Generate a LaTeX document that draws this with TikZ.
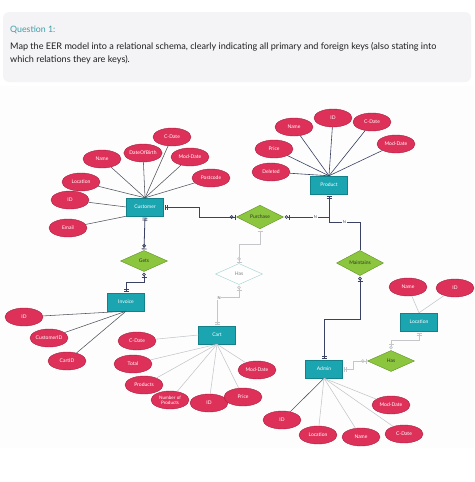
\documentclass[tikz,border=0pt]{standalone}
\usepackage{fontspec}
\setmainfont{Lato}
\usetikzlibrary{shapes.geometric,arrows.meta}

\definecolor{entfill}{HTML}{1BA5B0}
\definecolor{entline}{HTML}{12818A}
\definecolor{attrfill}{HTML}{DE3159}
\definecolor{attrline}{HTML}{A81E3E}
\definecolor{relfill}{HTML}{8CC63F}
\definecolor{relline}{HTML}{5F8F22}
\definecolor{hasline}{HTML}{9CCFCF}
\definecolor{linkdark}{HTML}{3B4163}
\definecolor{linklight}{HTML}{C4C6CA}
\definecolor{attrgray}{HTML}{50545C}
\definecolor{qteal}{HTML}{3F9EA8}
\definecolor{qbox}{HTML}{F4F3F6}

\tikzset{
  entity/.style={rectangle, draw=entline, fill=entfill, text=white,
    minimum width=37pt, minimum height=18pt, inner sep=0pt,
    font=\fontsize{5}{6}\selectfont},
  attr/.style={ellipse, draw=attrline, fill=attrfill, text=white,
    minimum width=38pt, minimum height=18pt, inner sep=0pt,
    font=\fontsize{5}{5.6}\selectfont},
  rel/.style={diamond, draw=relline, fill=relfill, text=black!80,
    minimum width=47pt, minimum height=21pt, inner sep=0pt,
    font=\fontsize{5}{6}\selectfont},
  weakrel/.style={rel, draw=hasline, fill=white, text=gray},
  darklink/.style={draw=linkdark, line width=0.8pt},
  lightlink/.style={draw=linklight, line width=0.7pt},
  attrlink/.style={draw=attrgray, line width=0.55pt},
  paleattr/.style={draw=linklight, line width=0.55pt},
  nlabel/.style={font=\fontsize{4}{5}\selectfont, fill=white, inner sep=0.6pt, text=linkdark},
  onebar/.tip={Bar[width=5pt,sep=1.5pt]},
  twobar/.tip={Bar[width=5pt,sep=1.2pt]Bar[width=5pt,sep=1.5pt]},
  % bar next to the node, circle further out
  zeroone/.tip={Circle[open,length=3.6pt,width=3.6pt,sep=1pt]Bar[width=5pt,sep=1pt]},
  onezero/.tip={Bar[width=5pt,sep=1pt]Circle[open,length=3.6pt,width=3.6pt,sep=1pt]},
}

\begin{document}
\begin{tikzpicture}[x=1pt,y=-1pt]
  \useasboundingbox (0,0) rectangle (474,482);
  % Question box on top
  \fill[qbox, rounded corners=6pt] (3,12) rectangle (471,82);
  \node[anchor=west, text=qteal, font=\fontsize{8.8}{10}\selectfont, inner sep=0pt] (qtitle) at (10,30) {Question 1:};
  \node[anchor=north west, align=left, text=black!88, inner sep=0pt,
        font=\fontsize{9.1}{13.5}\selectfont] (qtext) at (10,42)
        {Map the EER model into a relational schema, clearly indicating all primary and foreign keys (also stating into\\which relations they are keys).};
  \fill[black!0.8] (0,86) rectangle (474,448);

  % Entities
  \node[entity] (cust)  at (145,207) {Customer};
  \node[entity] (prod)  at (329,185) {Product};
  \node[entity] (inv)   at (126,302) {Invoice};
  \node[entity] (cart)  at (217,335) {Cart};
  \node[entity] (loc)   at (419,322) {Location};
  \node[entity] (admin) at (324,369) {Admin};

  % Relationships
  \node[rel] (purch) at (260,217) {Purchase};
  \node[rel] (gets)  at (144,261) {Gets};
  \node[weakrel] (hascart) at (239,274) {Has};
  \node[rel] (maint) at (360,263) {Maintains};
  \node[rel] (hasloc) at (391,361) {Has};

  % Customer attributes
  \node[attr] (cdate)  at (172,137) {C-Date};
  \node[attr] (cname)  at (102,159) {Name};
  \node[attr] (cdob)   at (143,153) {DateOfBirth};
  \node[attr] (cmod)   at (190,157) {Mod-Date};
  \node[attr] (cloc)   at (81,182)  {Location};
  \node[attr] (cpost)  at (211,178) {Postcode};
  \node[attr] (cid)    at (70,200)  {ID};
  \node[attr] (cmail)  at (68,228)  {Email};
  \foreach \a in {cdate,cname,cdob,cmod,cloc,cpost}
    \draw[attrlink] (\a) -- (cust.north);
  \draw[attrlink] (cid) -- (cust.west);
  \draw[attrlink] (cmail) -- (cust.south west);

  % Product attributes
  \node[attr] (pid)    at (333,118) {ID};
  \node[attr] (pcdate) at (372,122) {C-Date};
  \node[attr] (pname)  at (294,127) {Name};
  \node[attr] (pmod)   at (396,144) {Mod-Date};
  \node[attr] (pprice) at (274,149) {Price};
  \node[attr] (pdel)   at (271,172) {Deleted};
  \foreach \a in {pid,pcdate,pname,pmod,pprice,pdel}
    \draw[darklink, line width=0.6pt] (\a) -- (prod.north);

  % Invoice attributes
  \node[attr] (iid)   at (24,317) {ID};
  \node[attr] (icust) at (49,338) {CustomerID};
  \node[attr] (icart) at (67,361) {CartID};
  \foreach \a in {iid,icust,icart}
    \draw[attrlink] (\a) -- (inv.south);

  % Cart attributes
  \node[attr] (kdate)  at (137,341) {C-Date};
  \node[attr] (ktotal) at (133,364) {Total};
  \node[attr] (kprods) at (144,385) {Products};
  \node[attr, align=center, font=\fontsize{4.6}{5}\selectfont] (knum) at (170,400) {Number of\\Products};
  \node[attr] (kid)    at (209,403) {ID};
  \node[attr] (kprice) at (243,397) {Price};
  \node[attr] (kmod)   at (257,370) {Mod-Date};
  \draw[paleattr] (kdate) -- (cart.west);
  \foreach \a in {ktotal,kprods,knum,kid,kprice,kmod}
    \draw[paleattr] (\a) -- (cart.south);

  % Location attributes
  \node[attr] (lname) at (408,287) {Name};
  \node[attr] (lid)   at (455,288) {ID};
  \foreach \a in {lname,lid}
    \draw[paleattr] (\a) -- (loc.north);

  % Admin attributes
  \node[attr] (aid)   at (282,420) {ID};
  \node[attr] (aloc)  at (318,435) {Location};
  \node[attr] (aname) at (361,437) {Name};
  \node[attr] (acdate) at (404,434) {C-Date};
  \node[attr] (amod)  at (391,405) {Mod-Date};
  \draw[attrlink] (aid) -- (admin.south);
  \foreach \a in {aloc,aname,acdate,amod}
    \draw[paleattr] (\a) -- (admin.south);

  % Relationship connectors
  \draw[darklink, {twobar}-{zeroone}] (cust.east) -- ++(36,0) |- (purch.west);
  \draw[darklink, {onezero}-] (purch.east) -- (prod.south |- purch.east)
        node[nlabel, pos=0.7] {N};
  \draw[darklink, {twobar}-] (prod.south) -- ++(0,28) -| (maint.north)
        node[nlabel, pos=0.25] {N};
  \draw[darklink, {twobar}-{zeroone}] (cust.south) -- (gets.north);
  \draw[darklink, {onezero}-{twobar}] (gets.south) -- ++(0,11) -| (inv.north);
  \draw[lightlink, {onebar}-{zeroone}] (purch.south) -- ++(0,15) -| (hascart.north);
  \draw[lightlink, {onezero}-{twobar}] (hascart.south) -- ++(0,13) -| (cart.north)
        node[nlabel, pos=0.45, text=black!70] {N};
  \draw[darklink, {onezero}-{twobar}] (maint.south) -- ++(0,44) -| (admin.north);
  \draw[lightlink, {twobar}-{zeroone}] (admin.east) -- ++(11,0) |- (hasloc.west);
  \draw[lightlink, {onezero}-{twobar}] (hasloc.north) -- ++(0,-10) -| (loc.south);
\end{tikzpicture}
\end{document}
